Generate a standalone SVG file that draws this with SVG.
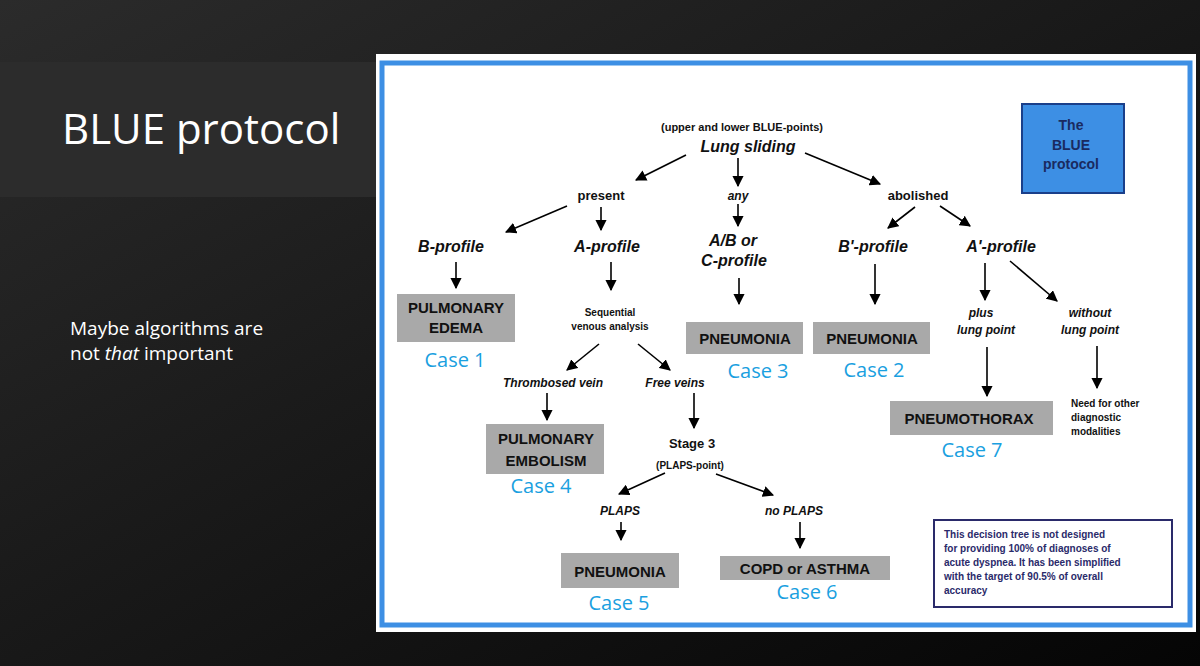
<svg xmlns="http://www.w3.org/2000/svg" width="1200" height="666" viewBox="0 0 1200 666">
<defs>
<linearGradient id="bg" x1="0" y1="0" x2="1" y2="1"><stop offset="0" stop-color="#2b2b2b"/><stop offset="1" stop-color="#050505"/></linearGradient>
<marker id="ah" viewBox="0 0 10 10" refX="9" refY="5" markerWidth="7" markerHeight="7" orient="auto"><path d="M0,0 L10,5 L0,10 z" fill="#000"/></marker>
<style>
.l{font-family:"Liberation Sans",Arial,sans-serif;fill:#111}
.bi{font-weight:bold;font-style:italic;font-size:16px}
.sm{font-size:11px;font-weight:bold}
.it{font-style:italic;font-size:12px;font-weight:bold}
.box{fill:#a9a9a9}
.bt{font-weight:bold;font-size:15px;fill:#111}
.case{font-family:"Open Sans","DejaVu Sans",sans-serif;font-size:20px;fill:#1aa0e0}
.c line{stroke:#000;stroke-width:1.6;marker-end:url(#ah)}
</style>
</defs>
<rect width="1200" height="666" fill="url(#bg)"/>
<rect x="0" y="62" width="376" height="135" fill="#2c2c2c"/>
<text x="62" y="144" font-family="Open Sans,DejaVu Sans,sans-serif" font-size="42" fill="#fff">BLUE protocol</text>
<text font-family="Open Sans,DejaVu Sans,sans-serif" font-size="19" fill="#fff"><tspan x="70" y="335">Maybe algorithms are</tspan><tspan x="70" y="360">not <tspan font-style="italic">that</tspan> important</tspan></text>
<rect x="376" y="54" width="820" height="578" fill="#fff"/>
<rect x="382" y="63" width="808" height="562" fill="#fff" stroke="#3d8fe4" stroke-width="5"/>
<g id="title"><rect x="1022" y="104" width="102" height="89" fill="#3d8fe4" stroke="#1a3f8a" stroke-width="2"/><text class="l" font-size="14" font-weight="bold" text-anchor="middle" style="fill:#1a2a60"><tspan x="1071" y="130">The</tspan><tspan x="1071" y="150">BLUE</tspan><tspan x="1071" y="169">protocol</tspan></text></g>
<g id="root"><text class="l sm" x="742" y="131" text-anchor="middle">(upper and lower BLUE-points)</text><text class="l bi" x="748" y="152" text-anchor="middle">Lung sliding</text></g>
<g id="present"><text class="l" x="601" y="200" text-anchor="middle" font-size="13" font-weight="bold">present</text></g>
<g id="any"><text class="l it" x="738" y="200" text-anchor="middle">any</text></g>
<g id="abolished"><text class="l" x="918" y="200" text-anchor="middle" font-size="13" font-weight="bold">abolished</text></g>
<g id="bprof"><text class="l bi" x="451" y="252" text-anchor="middle">B-profile</text></g>
<g id="aprof"><text class="l bi" x="607" y="252" text-anchor="middle">A-profile</text></g>
<g id="abc"><text class="l bi" text-anchor="middle"><tspan x="733" y="246">A/B or</tspan><tspan x="734" y="266">C-profile</tspan></text></g>
<g id="bpprof"><text class="l bi" x="873" y="252" text-anchor="middle">B'-profile</text></g>
<g id="approf"><text class="l bi" x="1001" y="252" text-anchor="middle">A'-profile</text></g>
<g id="pe"><rect x="397" y="294" width="118" height="48" class="box"/><text class="l bt" text-anchor="middle"><tspan x="456" y="313">PULMONARY</tspan><tspan x="456" y="333">EDEMA</tspan></text><text class="case" x="455" y="367" text-anchor="middle">Case 1</text></g>
<g id="sva"><text class="l" font-size="10" font-weight="bold" text-anchor="middle"><tspan x="610" y="316">Sequential</tspan><tspan x="610" y="330">venous analysis</tspan></text></g>
<g id="pn3"><rect x="686" y="322" width="117" height="32" class="box"/><text class="l bt" x="745" y="344" text-anchor="middle">PNEUMONIA</text><text class="case" x="758" y="378" text-anchor="middle">Case 3</text></g>
<g id="pn2"><rect x="813" y="322" width="117" height="32" class="box"/><text class="l bt" x="872" y="344" text-anchor="middle">PNEUMONIA</text><text class="case" x="874" y="377" text-anchor="middle">Case 2</text></g>
<g id="plus"><text class="l it" text-anchor="middle"><tspan x="981" y="317">plus</tspan><tspan x="986" y="334">lung point</tspan></text></g>
<g id="without"><text class="l it" text-anchor="middle"><tspan x="1090" y="317">without</tspan><tspan x="1090" y="334">lung point</tspan></text></g>
<g id="tv"><text class="l it" x="553" y="387" text-anchor="middle">Thrombosed vein</text></g>
<g id="fv"><text class="l it" x="675" y="387" text-anchor="middle">Free veins</text></g>
<g id="pem"><rect x="486" y="424" width="118" height="50" class="box"/><text class="l bt" text-anchor="middle"><tspan x="546" y="444">PULMONARY</tspan><tspan x="546" y="466">EMBOLISM</tspan></text><text class="case" x="541" y="493" text-anchor="middle">Case 4</text></g>
<g id="st3"><text class="l" font-weight="bold" text-anchor="middle"><tspan x="692" y="448" font-size="13">Stage 3</tspan><tspan x="690" y="469" font-size="10">(PLAPS-point)</tspan></text></g>
<g id="ptx"><rect x="890" y="401" width="163" height="34" class="box"/><text class="l bt" x="969" y="424" text-anchor="middle">PNEUMOTHORAX</text><text class="case" x="972" y="457" text-anchor="middle">Case 7</text></g>
<g id="need"><text class="l" font-size="10" font-weight="bold"><tspan x="1071" y="407">Need for other</tspan><tspan x="1071" y="421">diagnostic</tspan><tspan x="1071" y="435">modalities</tspan></text></g>
<g id="plaps"><text class="l it" x="620" y="515" text-anchor="middle">PLAPS</text></g>
<g id="noplaps"><text class="l it" x="794" y="515" text-anchor="middle">no PLAPS</text></g>
<g id="pn5"><rect x="561" y="553" width="118" height="35" class="box"/><text class="l bt" x="620" y="577" text-anchor="middle">PNEUMONIA</text><text class="case" x="619" y="610" text-anchor="middle">Case 5</text></g>
<g id="copd"><rect x="720" y="556" width="170" height="24" class="box"/><text class="l bt" x="805" y="574" text-anchor="middle">COPD  or ASTHMA</text><text class="case" x="807" y="599" text-anchor="middle">Case 6</text></g>
<g id="note"><rect x="934" y="520" width="238" height="87" fill="#fff" stroke="#2a2a6a" stroke-width="2"/><text class="l" font-size="10" font-weight="bold" style="fill:#2a2a6a"><tspan x="944" y="538">This decision tree is not designed</tspan><tspan x="944" y="552">for providing 100% of diagnoses of</tspan><tspan x="944" y="566">acute dyspnea. It has been simplified</tspan><tspan x="944" y="580">with the target of 90.5% of overall</tspan><tspan x="944" y="594">accuracy</tspan></text></g>
<g class="c" id="connectors">
<line x1="686" y1="155" x2="636" y2="180"/>
<line x1="738" y1="158" x2="738" y2="186"/>
<line x1="805" y1="153" x2="880" y2="184"/>
<line x1="567" y1="206" x2="506" y2="232"/>
<line x1="601" y1="207" x2="601" y2="230"/>
<line x1="738" y1="204" x2="738" y2="226"/>
<line x1="915" y1="207" x2="888" y2="228"/>
<line x1="940" y1="206" x2="970" y2="226"/>
<line x1="456" y1="262" x2="456" y2="288"/>
<line x1="611" y1="262" x2="611" y2="290"/>
<line x1="739" y1="278" x2="739" y2="304"/>
<line x1="875" y1="264" x2="875" y2="304"/>
<line x1="985" y1="263" x2="985" y2="300"/>
<line x1="1010" y1="261" x2="1057" y2="301"/>
<line x1="599" y1="344" x2="567" y2="370"/>
<line x1="638" y1="344" x2="670" y2="370"/>
<line x1="547" y1="393" x2="547" y2="420"/>
<line x1="694" y1="393" x2="694" y2="428"/>
<line x1="987" y1="347" x2="987" y2="396"/>
<line x1="1097" y1="346" x2="1097" y2="388"/>
<line x1="665" y1="473" x2="619" y2="494"/>
<line x1="716" y1="474" x2="773" y2="495"/>
<line x1="621" y1="522" x2="621" y2="540"/>
<line x1="800" y1="522" x2="800" y2="548"/>
</g>
</svg>
